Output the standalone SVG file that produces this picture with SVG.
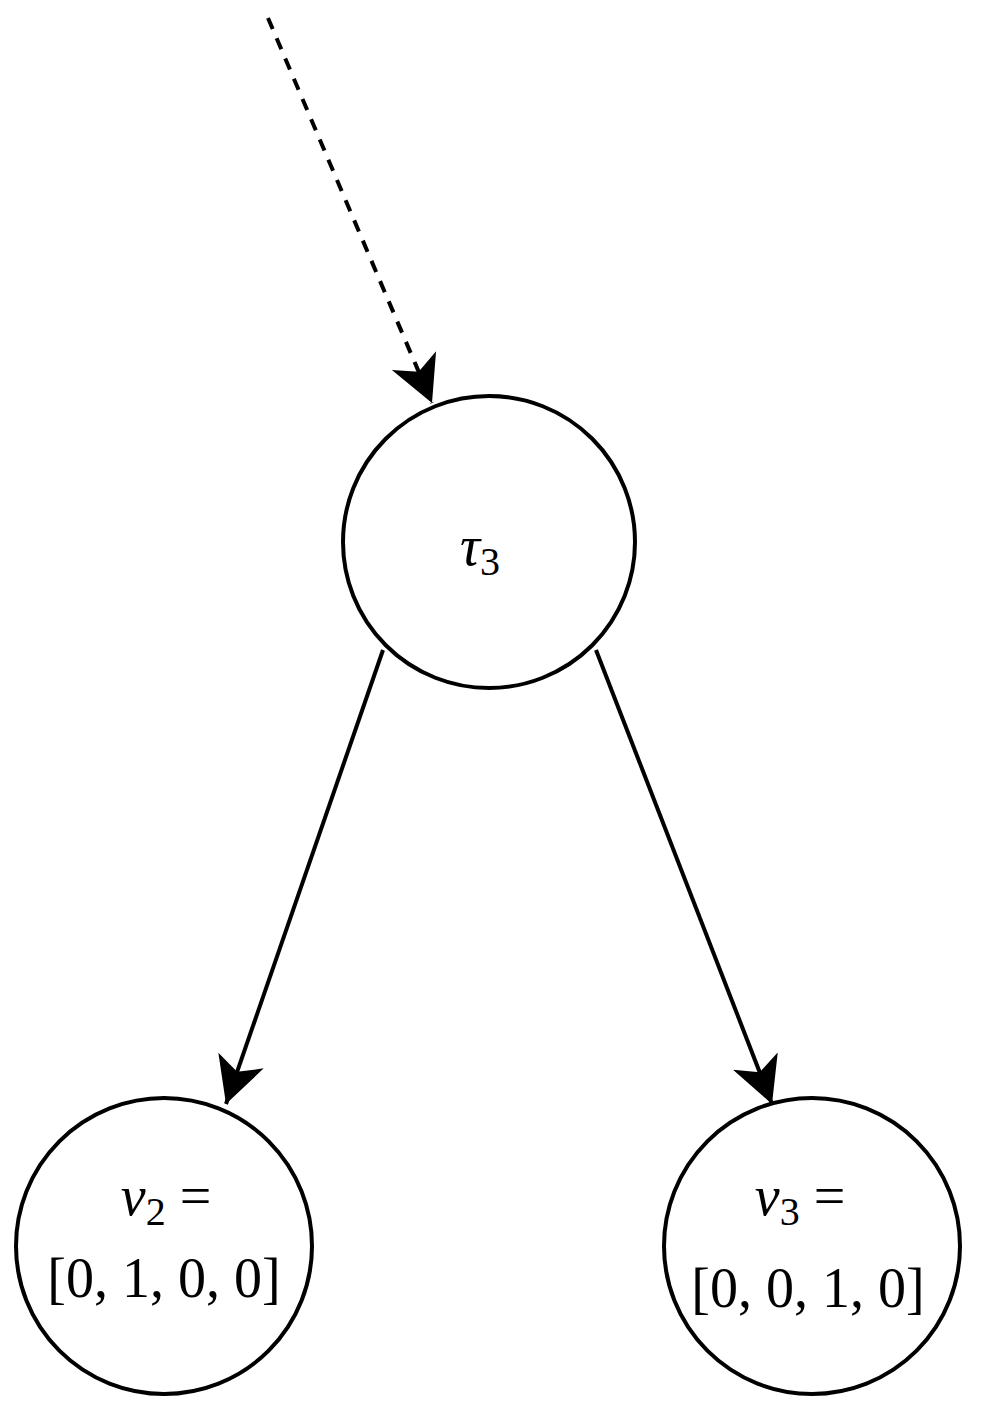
<svg xmlns="http://www.w3.org/2000/svg" width="982" height="1414" viewBox="0 0 982 1414">
<style>
.n{fill:#fff;stroke:#000;stroke-width:4}
.e{fill:none;stroke:#000;stroke-width:4}
.t{font-family:"Liberation Serif",serif;font-size:56px;fill:#000;text-anchor:middle}
.i{font-style:italic}
</style>
<defs>
<marker id="a" markerUnits="userSpaceOnUse" markerWidth="60" markerHeight="60" refX="46" refY="24" orient="auto" viewBox="0 0 60 60">
<path d="M46,24 L0,0 L12,24 L0,48 Z" fill="#000"/>
</marker>
</defs>
<g id="connectors">
<path class="e" d="M268,18 L432,403" stroke-dasharray="12,10" marker-end="url(#a)"/>
<path class="e" d="M383,650 L226,1104" marker-end="url(#a)"/>
<path class="e" d="M596,650 L772,1104" marker-end="url(#a)"/>
</g>
<g id="tau3">
<circle class="n" cx="489" cy="542" r="146"/>
<text class="t" x="480" y="565"><tspan class="i">τ</tspan><tspan font-size="40" dy="10">3</tspan></text>
</g>
<g id="v2">
<circle class="n" cx="164" cy="1246" r="148"/>
<text class="t" x="166" y="1215"><tspan class="i">v</tspan><tspan font-size="40" dy="10">2</tspan><tspan dy="-10"> =</tspan></text>
<text class="t" x="164" y="1297">[0, 1, 0, 0]</text>
</g>
<g id="v3">
<circle class="n" cx="812" cy="1246" r="148"/>
<text class="t" x="800" y="1215"><tspan class="i">v</tspan><tspan font-size="40" dy="10">3</tspan><tspan dy="-10"> =</tspan></text>
<text class="t" x="808" y="1307">[0, 0, 1, 0]</text>
</g>
</svg>
